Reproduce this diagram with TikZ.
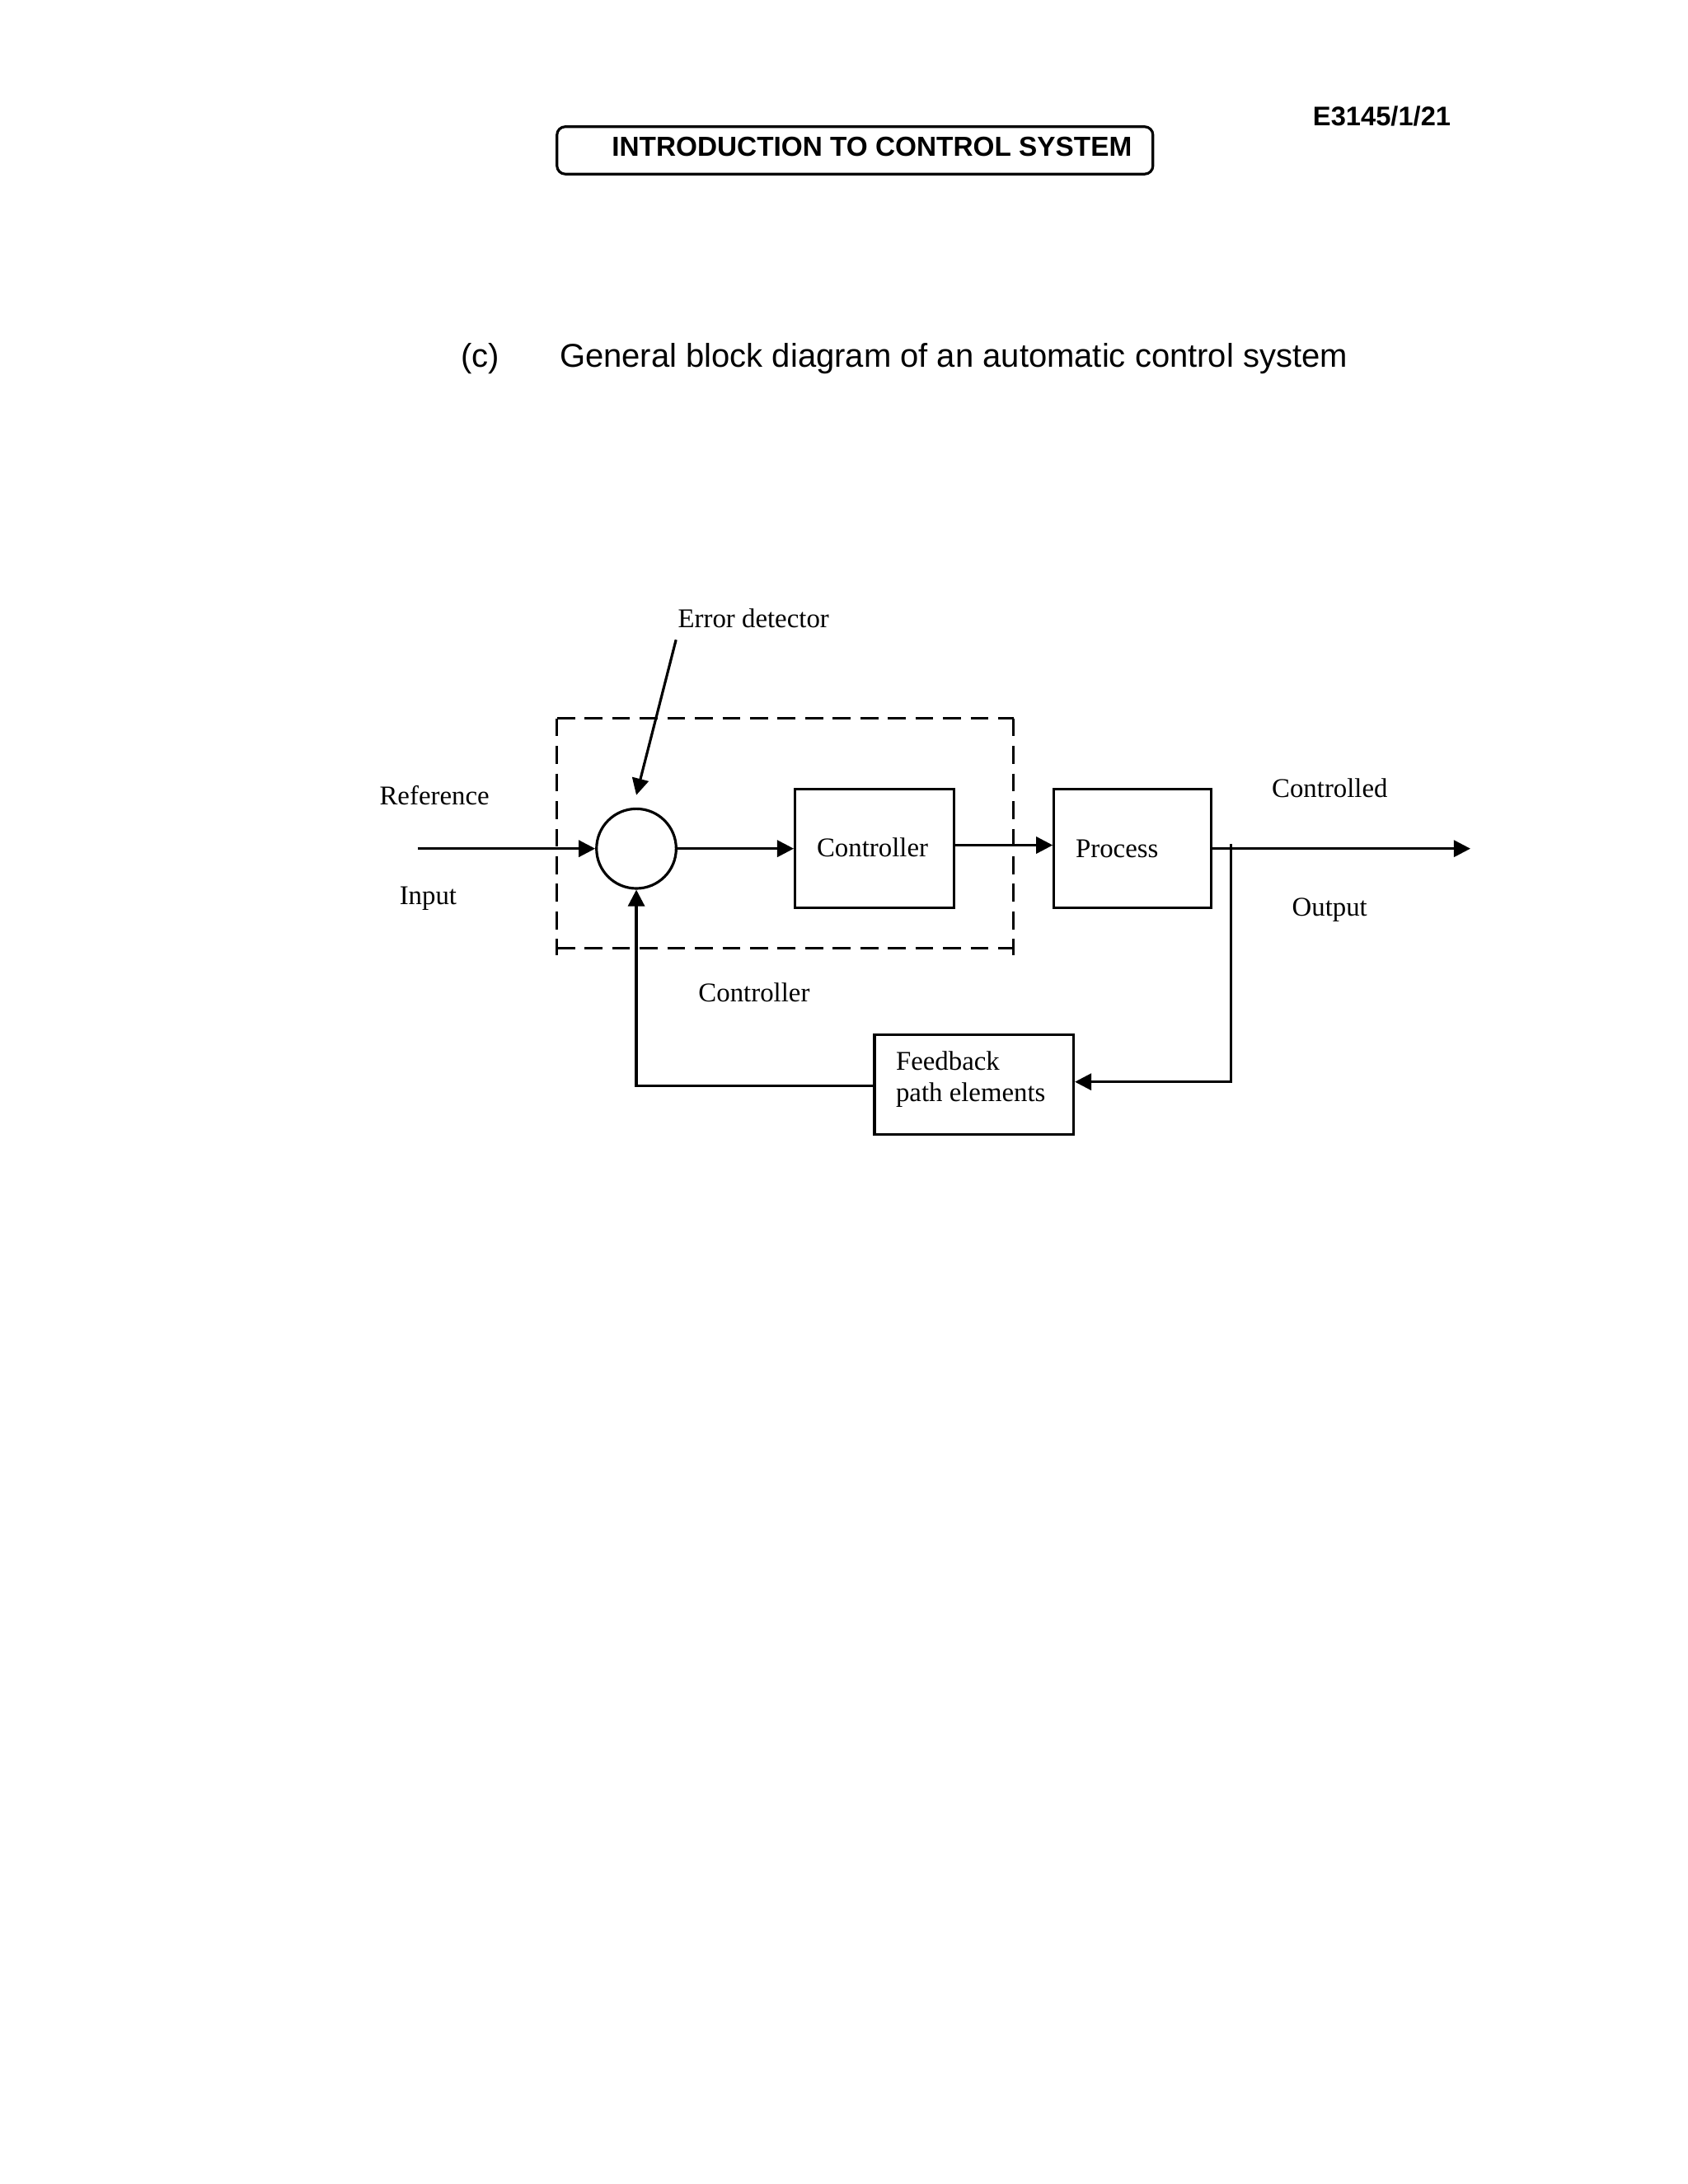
\documentclass[tikz,border=0pt]{standalone}
\usepackage{fontspec}
\setmainfont{Liberation Serif}
\newfontfamily\arial{Liberation Sans}
\usetikzlibrary{arrows.meta,calc}
\begin{document}
\begin{tikzpicture}[x=0.5049bp,y=-0.5049bp,
  line width=0.95bp,
  arr/.style={-{Triangle[length=6bp,width=6bp]}},
  blk/.style={draw,rectangle,inner sep=0pt},
  lbl/.style={inner sep=0pt,anchor=base west,font=\fontsize{9.85}{11}\selectfont},
  dashbox/.style={dash pattern=on 6.5bp off 3.5bp}]
\useasboundingbox (0,0) rectangle (1212.12,1568.63);
% header
\node[inner sep=0pt,anchor=base west,font=\arial\bfseries\fontsize{9.8}{11}\selectfont] (code) at (942,90) {E3145/1/21};
\draw[rounded corners=3bp] (400,91) rectangle (828,125);
\node[inner sep=0pt,anchor=base west,font=\arial\bfseries\fontsize{10}{11}\selectfont] (head) at (438.5,112.3) {INTRODUCTION TO CONTROL SYSTEM};
\node[inner sep=0pt,anchor=base west,font=\arial\fontsize{12}{14}\selectfont] (cc) at (330,263.5) {(c)};
\node[inner sep=0pt,anchor=base west,font=\arial\fontsize{12}{14}\selectfont] (ttl) at (401,263.5) {General block diagram of an automatic control system};
% dashed box
\draw[dashbox] (400,516) -- (728,516);
\draw[dashbox] (400,681) -- (728,681);
\draw[dashbox] (400,516) -- (400,686);
\draw[dashbox] (728,516) -- (728,686);
% blocks
\node[draw,circle,minimum size=28.88bp,inner sep=0pt] (sum) at (457,609.5) {};
\node[blk,minimum width=57.56bp,minimum height=42.92bp] (ctrl) at (628,609.5) {};
\node[blk,minimum width=57.05bp,minimum height=42.92bp] (proc) at (813.5,609.5) {};
\node[blk,minimum width=72.2bp,minimum height=36.35bp] (fb) at (699.5,779) {};
% labels
\node[lbl] (ed) at (486,450.7) {Error detector};
\node[lbl] (ref) at (271.7,578.1) {Reference};
\node[lbl] (inp) at (286,649.7) {Input};
\node[lbl] (ctrlt) at (585.7,615.4) {Controller};
\node[lbl] (proct) at (771.6,615.9) {Process};
\node[lbl] (cont) at (912.5,572.6) {Controlled};
\node[lbl] (outp) at (927,658.1) {Output};
\node[lbl] (ctrl2) at (500.7,719.6) {Controller};
\node[lbl] (fbt1) at (642.5,768.4) {Feedback};
\node[lbl] (fbt2) at (642.5,791.3) {path elements};
% connectors
\coordinate (inl) at (300,609.5);
\coordinate (outend) at (1056,609.5);
\coordinate (br) at (884,606);
\coordinate (edstart) at (485.5,459.5);
\draw[arr] (inl) -- (sum.west);
\draw[arr] (sum.east) -- (ctrl.west);
\draw[arr] ([yshift=1.25bp]ctrl.east) -- ([yshift=1.25bp]proc.west);
\draw[arr] (proc.east) -- (outend);
\draw[arr] (br) |- ([yshift=1bp]fb.east);
\draw[arr] ([yshift=-0.5bp]fb.west) -| (sum.south);
\draw[arr] (edstart) -- ([yshift=4.5bp]sum.north);
\end{tikzpicture}
\end{document}
